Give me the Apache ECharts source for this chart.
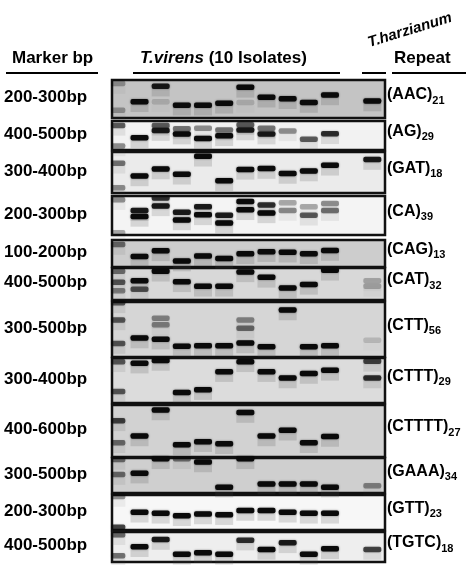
<!DOCTYPE html>
<html><head><meta charset="utf-8">
<script src="https://cdn.jsdelivr.net/npm/echarts@6/dist/echarts.min.js"></script>
<style>html,body{margin:0;background:#fff}#c{width:474px;height:565px}</style>
</head><body><div id="c"></div>
<script>
// primer rows
const sizes = ['200-300bp','400-500bp','300-400bp','200-300bp','100-200bp','400-500bp','300-500bp','300-400bp','400-600bp','300-500bp','200-300bp','400-500bp'];
const repeats = ['AAC','AG','GAT','CA','CAG','CAT','CTT','CTTT','CTTTT','GAAA','GTT','TGTC'];
const repeatN = ['21','29','18','39','13','32','56','29','27','34','23','18'];
// band positions (0 = top of panel, 1 = bottom), lane 0 = marker, 1..10 T.virens, 12 T.harzianum
// each band: [lane, rel, intensity]
const bands = [
  [[0,.1,.3],[0,.8,.3],[1,.58,1],[2,.17,.9],[2,.58,.15],[3,.67,1],[4,.67,1],[5,.62,1],[6,.2,1],[6,.6,.15],[7,.46,1],[8,.5,1],[9,.6,1],[10,.4,1],[12,.56,1]],
  [[0,.16,.6],[0,.87,.4],[1,.59,1],[2,.16,.6],[2,.34,.9],[3,.28,.5],[3,.46,1],[4,.26,.4],[4,.61,1],[5,.32,.5],[5,.52,1],[6,.14,.6],[6,.32,.9],[7,.26,.5],[7,.46,.9],[8,.35,.4],[9,.64,.6],[10,.45,.8]],
  [[0,.28,.5],[0,.88,.4],[1,.59,1],[2,.42,1],[3,.55,1],[4,.11,1],[5,.71,1],[6,.43,1],[7,.41,1],[8,.53,1],[9,.47,1],[10,.33,1],[12,.19,.9]],
  [[0,.1,.4],[0,.95,.3],[1,.38,.9],[1,.53,1],[2,.06,.8],[2,.26,.9],[3,.42,.9],[3,.62,1],[4,.28,.9],[4,.49,1],[5,.5,.9],[5,.7,1],[6,.15,1],[6,.36,1],[7,.24,.8],[7,.44,1],[8,.18,.3],[8,.38,.4],[9,.28,.3],[9,.5,.6],[10,.2,.4],[10,.38,.5]],
  [[0,.18,.5],[1,.62,1],[2,.41,1],[3,.79,1],[4,.6,1],[5,.69,1],[6,.52,1],[7,.44,1],[8,.46,1],[9,.52,1],[10,.4,1]],
  [[0,.11,.5],[0,.45,.6],[0,.72,.4],[1,.41,1],[1,.67,.6],[2,.11,1],[3,.44,1],[4,.58,1],[5,.58,1],[6,.13,1],[7,.3,1],[8,.63,1],[9,.52,1],[10,.08,1],[12,.41,.25],[12,.58,.25]],
  [[0,.02,.6],[0,.33,.6],[0,.76,.6],[1,.66,1],[2,.3,.4],[2,.42,.4],[2,.68,1],[3,.81,1],[4,.8,1],[5,.8,1],[6,.33,.4],[6,.48,.5],[6,.75,1],[7,.82,1],[8,.15,1],[9,.82,1],[10,.8,1],[12,.7,.15]],
  [[0,.09,.6],[0,.75,.6],[1,.12,1],[2,.06,1],[3,.77,1],[4,.71,1],[5,.31,1],[6,.09,1],[7,.31,1],[8,.45,1],[9,.35,1],[10,.28,1],[12,.08,.7],[12,.45,.8]],
  [[0,.31,.7],[0,.73,.5],[1,.6,1],[2,.1,1],[3,.77,1],[4,.71,1],[5,.75,1],[6,.15,1],[7,.6,1],[8,.49,1],[9,.73,1],[10,.61,1]],
  [[0,.05,.5],[0,.48,.5],[1,.44,1],[2,.03,1],[3,.03,.5],[4,.12,1],[5,.84,1],[6,.03,1],[7,.75,1],[8,.75,1],[9,.75,1],[10,.84,1],[12,.8,.4]],
  [[0,.05,.4],[0,.93,.7],[1,.5,1],[2,.53,1],[3,.6,1],[4,.55,1],[5,.57,1],[6,.45,1],[7,.45,1],[8,.5,1],[9,.53,1],[10,.53,1]],
  [[0,.1,.5],[0,.8,.5],[1,.5,1],[2,.26,.9],[3,.75,1],[4,.7,1],[5,.75,1],[6,.28,.8],[7,.59,1],[8,.37,.9],[9,.75,1],[10,.57,1],[12,.59,.7]]
];
// panel layout (y offsets inside the gel column) and background grey level
const panelEdges = [[0,38],[41,70],[72,113],[116,155],[160,187],[188,220],[222,277],[278,323],[325,377],[378,413],[415,450],[452,482]];
const panelBg = ['#c4c4c4','#f2f2f2','#ebebeb','#f4f4f4','#cdcdcd','#d8d8d8','#d6d6d6','#dcdcdc','#d2d2d2','#cfcfcf','#f7f7f7','#eeeeee'];

const bandData = [];
bands.forEach((list, p) => list.forEach(b => bandData.push([b[0], panelEdges[p][0] + b[1]*(panelEdges[p][1]-panelEdges[p][0]), b[2], p])));

const chart = echarts.init(document.getElementById('c'));
const font = '"Liberation Sans", Arial, sans-serif';
const graphic = [];
const rowCenter = p => 80 + (panelEdges[p][0] + panelEdges[p][1]) / 2;
sizes.forEach((s, p) => {
  graphic.push({type:'text', left: 4, top: rowCenter(p) - 10, style:{text:s, font:'bold 17px '+font, fill:'#000'}});
  graphic.push({type:'text', left: 387, top: rowCenter(p) - 12, style:{
    text:'{a|(' + repeats[p] + ')}{b|' + repeatN[p] + '}',
    rich:{a:{font:'bold 16px '+font, fill:'#000'}, b:{font:'bold 11px '+font, fill:'#000', padding:[11,0,0,0]}}}});
});
// headers
graphic.push({type:'text', left:12, top:50, style:{text:'Marker bp', font:'bold 17px '+font, fill:'#000'}});
graphic.push({type:'line', shape:{x1:6,y1:73,x2:98,y2:73}, style:{stroke:'#000', lineWidth:2}});
graphic.push({type:'text', left:140, top:50, style:{text:'{i|T.virens} (10 Isolates)', font:'bold 17px '+font, fill:'#000',
  rich:{i:{font:'italic bold 17px '+font}}}});
graphic.push({type:'line', shape:{x1:133,y1:73,x2:340,y2:73}, style:{stroke:'#000', lineWidth:2}});
graphic.push({type:'text', x:366, y:36, rotation:0.3, style:{text:'T.harzianum', font:'italic bold 15px '+font, fill:'#000'}});
graphic.push({type:'line', shape:{x1:362,y1:73,x2:386,y2:73}, style:{stroke:'#000', lineWidth:2}});
graphic.push({type:'text', left:394, top:50, style:{text:'Repeat', font:'bold 17px '+font, fill:'#000'}});
graphic.push({type:'line', shape:{x1:392,y1:73,x2:466,y2:73}, style:{stroke:'#000', lineWidth:2}});

chart.setOption({
  animation:false,
  grid:{left:112, width:273, top:80, height:482},
  xAxis:{type:'value', min:-0.3, max:12.6, show:false},
  yAxis:{type:'value', min:0, max:482, inverse:true, show:false},
  graphic: graphic,
  series:[
    {type:'custom', data: panelEdges.map((e,p)=>[e[0],e[1],p]), renderItem:(params, api)=>{
      const a = api.coord([-0.3, api.value(0)]), b = api.coord([12.6, api.value(1)]);
      return {type:'rect', shape:{x:a[0], y:a[1], width:b[0]-a[0], height:b[1]-a[1]},
        style:{fill: panelBg[api.value(2)], stroke:'#111', lineWidth:2.5}};
    }},
    {type:'custom', data: bandData, renderItem:(params, api)=>{
      const lane = api.value(0), c = api.coord([lane, api.value(1)]), k = api.value(2);
      const w = lane === 0 ? 14 : 18;
      return {type:'group', children:[
        {type:'rect', shape:{x:c[0]-w/2, y:c[1]+2, width:w, height:8}, style:{fill:'rgba(70,70,70,'+(0.18*k)+')'}},
        {type:'rect', shape:{x:c[0]-w/2, y:c[1]-3, width:w, height:5.5, r:2}, style:{fill:'rgba(10,10,10,'+k+')', shadowBlur:2, shadowColor:'rgba(0,0,0,'+(0.5*k)+')'}}
      ]};
    }}
  ]
});
</script></body></html>
